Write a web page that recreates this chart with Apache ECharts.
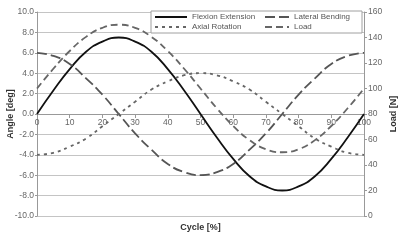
<!DOCTYPE html>
<html><head><meta charset="utf-8">
<script src="https://cdn.jsdelivr.net/npm/echarts@6/dist/echarts.min.js"></script>
<style>html,body{margin:0;padding:0;background:#fff}#c{width:406px;height:243px}</style>
</head><body><div id="c"></div>
<script>
var cycle = [0,5,10,15,20,25,30,35,40,45,50,55,60,65,70,75,80,85,90,95,100];
var flexionExtension = [0,2.3,4.4,6.1,7.1,7.5,7.1,6.1,4.4,2.3,0,-2.3,-4.4,-6.1,-7.1,-7.5,-7.1,-6.1,-4.4,-2.3,0];
var lateralBending = [6.0,5.7,4.9,3.5,1.9,0,-1.9,-3.5,-4.9,-5.7,-6.0,-5.7,-4.9,-3.5,-1.9,0,1.9,3.5,4.9,5.7,6.0];
var axialRotation = [-4.0,-3.8,-3.2,-2.4,-1.2,0,1.2,2.4,3.2,3.8,4.0,3.8,3.2,2.4,1.2,0,-1.2,-2.4,-3.2,-3.8,-4.0];
var load = [100,115.5,129.4,140.5,147.6,150,147.6,140.5,129.4,115.5,100,84.5,70.6,59.5,52.4,50,52.4,59.5,70.6,84.5,100];
var seriesNames = ['Flexion Extension','Lateral Bending','Axial Rotation','Load'];

function pairs(v){ return cycle.map(function(c,i){ return [c, v[i]]; }); }
var font = '"Liberation Sans", Arial, sans-serif';
var chart = echarts.init(document.getElementById('c'), null, {renderer:'canvas'});
function mk(name, data, yIdx, color, type, width){
  return {name:name, type:'line', yAxisIndex:yIdx, data:pairs(data), smooth:true, showSymbol:false, symbol:'none',
    lineStyle:{color:color, width:width, type:type}, itemStyle:{color:color}, z:2};
}
var legendCommon = {orient:'vertical', top:11, z:5, padding:[2,0,0,0], itemHeight:8, itemGap:2,
  itemStyle:{opacity:0, borderWidth:0},
  textStyle:{fontSize:8, color:'#555', fontFamily:font}};
chart.setOption({
  animation:false,
  grid:{left:37, right:42, top:12, bottom:27, containLabel:false, outerBoundsMode:'none'},
  graphic:[{type:'rect', z:3, shape:{x:151, y:11, width:211, height:22},
    style:{fill:'#fff', stroke:'#a0a0a0', lineWidth:1}}],
  legend:[
    Object.assign({left:154, itemWidth:32, data:[seriesNames[0], seriesNames[2]]}, legendCommon),
    Object.assign({left:264, itemWidth:24, data:[seriesNames[1], seriesNames[3]]}, legendCommon)
  ],
  xAxis:{type:'value', min:0, max:100, interval:10, position:'bottom', offset:-102,
    name:'Cycle [%]', nameLocation:'middle', nameGap:109, nameMoveOverlap:false,
    nameTextStyle:{fontSize:9, fontWeight:'bold', color:'#333', fontFamily:font},
    axisLine:{onZero:false, lineStyle:{color:'#999'}},
    axisTick:{show:true, length:4, lineStyle:{color:'#999'}},
    axisLabel:{fontSize:8.5, color:'#666', margin:4, fontFamily:font},
    splitLine:{show:false}},
  yAxis:[
    {type:'value', min:-10, max:10, interval:2, position:'left',
     name:'Angle [deg]', nameLocation:'middle', nameGap:22, nameMoveOverlap:false,
     nameTextStyle:{fontSize:9, fontWeight:'bold', color:'#333', fontFamily:font},
     axisLine:{show:true, onZero:false, lineStyle:{color:'#999'}},
     axisTick:{show:true, length:2, lineStyle:{color:'#999'}},
     axisLabel:{fontSize:8.5, color:'#666', margin:3, fontFamily:font, formatter:function(v){return v.toFixed(1);}},
     splitLine:{show:true, lineStyle:{color:'#c4c4c4', width:1}}},
    {type:'value', min:0, max:160, interval:20, position:'right',
     name:'Load [N]', nameLocation:'middle', nameGap:25, nameMoveOverlap:false,
     nameTextStyle:{fontSize:9, fontWeight:'bold', color:'#333', fontFamily:font},
     axisLine:{show:true, onZero:false, lineStyle:{color:'#999'}},
     axisTick:{show:true, length:3, lineStyle:{color:'#999'}},
     axisLabel:{fontSize:8.5, color:'#666', margin:4, fontFamily:font},
     splitLine:{show:false}}
  ],
  series:[
    mk(seriesNames[0], flexionExtension, 0, '#111', 'solid', 1.8),
    mk(seriesNames[1], lateralBending, 0, '#555', [10,4], 1.8),
    mk(seriesNames[2], axialRotation, 0, '#666', [3,4], 1.8),
    mk(seriesNames[3], load, 1, '#666', [7,4], 1.8)
  ]
});
</script></body></html>
